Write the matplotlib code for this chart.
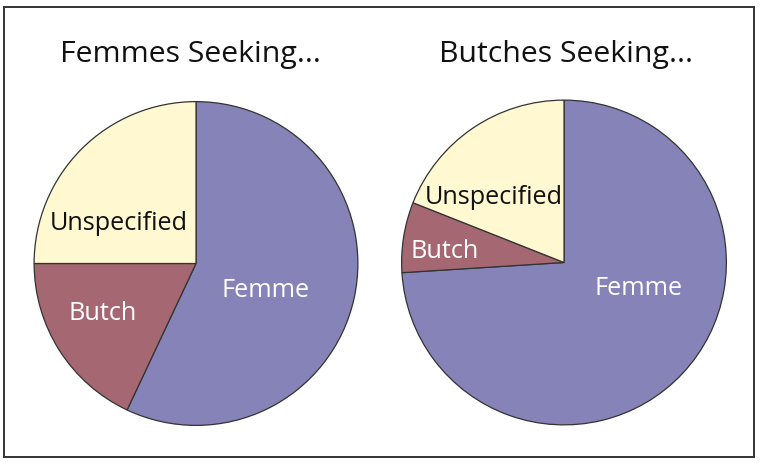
import matplotlib
matplotlib.use("Agg")
import matplotlib.pyplot as plt
from matplotlib.patches import Rectangle

categories = ["Femme", "Butch", "Unspecified"]
femmes_seeking = [57, 18, 25]
butches_seeking = [74, 7, 19]
titles = ["Femmes Seeking...", "Butches Seeking..."]
colors = ["#8583b8", "#a56872", "#fff8d0"]
label_colors = ["white", "white", "#111111"]

FONT = "Open Sans"
W, H = 768, 466
fig = plt.figure(figsize=(W / 100, H / 100), dpi=100)
fig.patch.set_facecolor("white")

# outer frame
fig.patches.append(Rectangle((4 / W, 1 - 457 / H), 750 / W, 450 / H,
                             transform=fig.transFigure, fill=False,
                             edgecolor="#333333", linewidth=1.4))

# pie layout (center px, radius px)
pies = [
    dict(vals=femmes_seeking, cx=196, cy=263.5, r=163.5,
         lab=[(0.428, -0.205), (-0.574, -0.346), (-0.480, 0.205)],
         title_x=190),
    dict(vals=butches_seeking, cx=564, cy=262.5, r=164,
         lab=[(0.460, -0.198), (-0.735, 0.027), (-0.430, 0.363)],
         title_x=566),
]

for p, title in zip(pies, titles):
    ax = fig.add_axes([(p["cx"] - p["r"]) / W, (H - p["cy"] - p["r"]) / H,
                       2 * p["r"] / W, 2 * p["r"] / H])
    ax.pie(p["vals"], colors=colors, startangle=90, counterclock=False,
           radius=1, wedgeprops=dict(edgecolor="#333333", linewidth=0.9))
    ax.set_xlim(-1.01, 1.01)
    ax.set_ylim(-1.01, 1.01)
    ax.set_aspect("equal")
    ax.axis("off")
    for cat, (lx, ly), lc in zip(categories, p["lab"], label_colors):
        ax.text(lx, ly, cat, ha="center", va="baseline", color=lc,
                fontsize=18.2, family=FONT)
    fig.text(p["title_x"] / W, 1 - 62 / H, title, ha="center", va="baseline",
             fontsize=21.8, family=FONT, color="#111111")

fig.savefig("out.png", dpi=100, facecolor="white")
